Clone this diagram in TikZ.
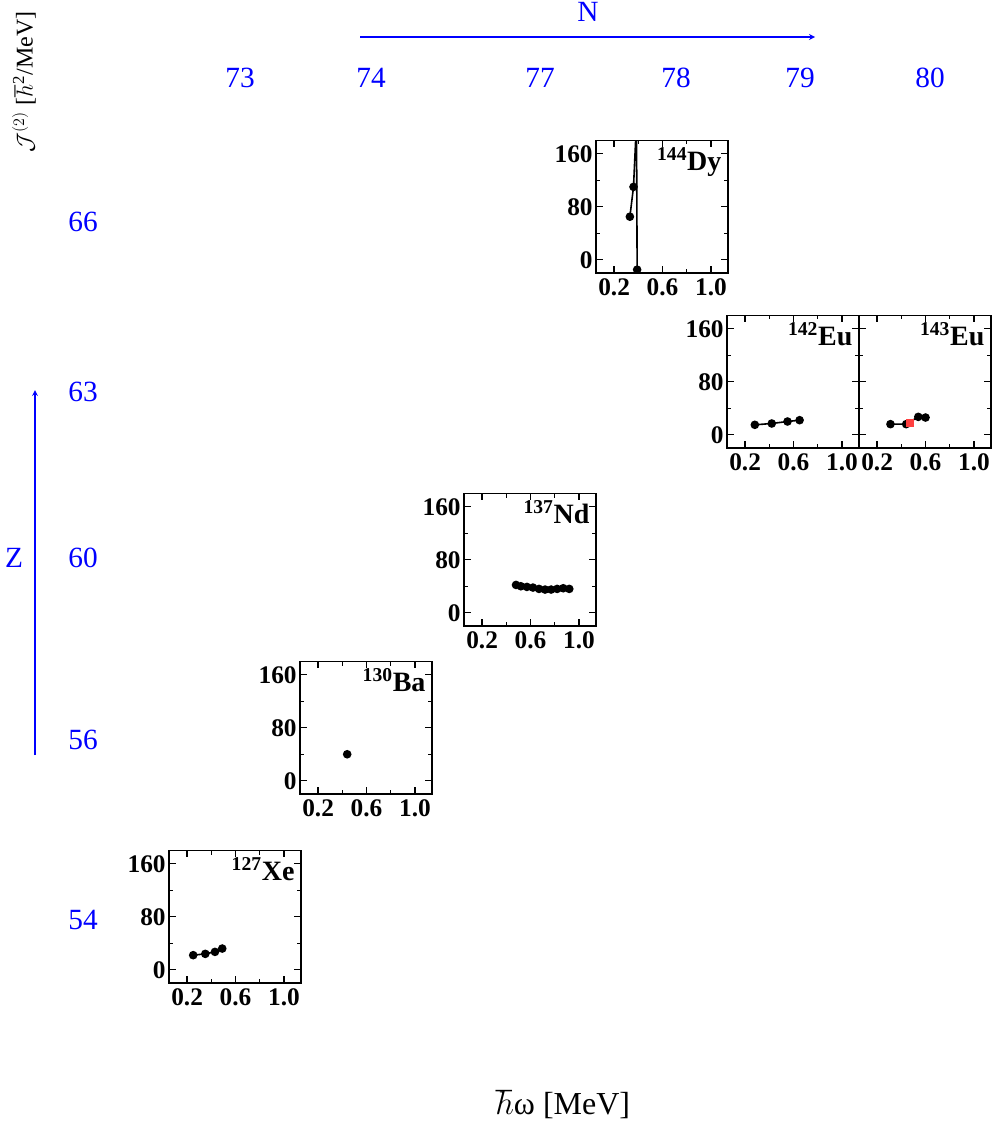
\documentclass[tikz,border=0pt]{standalone}
\usepackage{fontspec}
\setmainfont{Liberation Serif}
\begin{document}
\begin{tikzpicture}[x=0.75pt,y=-0.75pt,
  blu/.style={text=blue,font=\fontsize{22}{22}\selectfont},
  tl/.style={font=\bfseries\fontsize{19}{19}\selectfont,inner sep=1pt},
  nuc/.style={font=\bfseries\fontsize{21}{21}\selectfont,anchor=north east,inner sep=1pt},
  dot/.style={circle,fill=black,inner sep=0pt,minimum size=6.5pt},
  frame/.style={line width=1.3pt}]
\useasboundingbox (0,0) rectangle (993,1125);
\newcommand{\mypanel}[5][1]{%
 \begin{scope}[shift={(#2,#3)},x=90.75pt,y=0.4969pt,shift={(-0.05,20)}]
  \begin{scope}
   \clip (0.05,-20) rectangle (1.14,180);
   #5
  \end{scope}
  \draw[frame] (0.05,-20) rectangle (1.14,180);
  \foreach \t in {0.2,0.6,1.0}{\draw[line width=1pt] (\t,-20) -- ++(0,5pt) (\t,180) -- ++(0,-5pt);}
  \foreach \t in {0.4,0.8}{\draw[line width=1pt] (\t,-20) -- ++(0,3pt) (\t,180) -- ++(0,-3pt);}
  \foreach \t in {0,80,160}{\draw[line width=1pt] (0.05,\t) -- ++(5pt,0) (1.14,\t) -- ++(-5pt,0);}
  \foreach \t in {40,120}{\draw[line width=1pt] (0.05,\t) -- ++(3pt,0) (1.14,\t) -- ++(-3pt,0);}
  \ifnum#1=1 \foreach \t in {0,80,160}{\node[tl,anchor=east] at (0.035,\t) {\t};}\fi
  \foreach \t in {0.2,0.6,1.0}{\node[tl,anchor=north] at (\t,-26) {\t};}
  \node[nuc] at (1.1,172) {#4};
 \end{scope}}
\mypanel{596}{273}{\textsuperscript{144}Dy}{\draw[line width=1.2pt] (0.33,65)--(0.36,110)--(0.38,190)--(0.385,190)--(0.39,-15);
 \node[dot] (a1) at (0.33,65){};\node[dot] (a2) at (0.36,110){};\node[dot] (a3) at (0.39,-15){};}
\mypanel{727}{448}{\textsuperscript{142}Eu}{\draw[line width=1.2pt] (0.28,15)--(0.42,17)--(0.55,20)--(0.65,22);
 \foreach \p/\q in {0.28/15,0.42/17,0.55/20,0.65/22}{\node[dot] at (\p,\q){};}}
\mypanel[0]{859}{448}{\textsuperscript{143}Eu}{\draw[line width=1.2pt] (0.31,16)--(0.44,16)--(0.54,27)--(0.60,26);
 \foreach \p/\q in {0.31/16,0.44/16,0.54/27,0.60/26}{\node[dot] at (\p,\q){};}
 \node[fill=red!75,inner sep=0pt,minimum size=6pt] at (0.47,18){};}
\mypanel{464}{626}{\textsuperscript{137}Nd}{\draw[line width=1pt] (0.48,42)--(0.52,40)--(0.57,39)--(0.62,38)--(0.67,36)--(0.72,35)--(0.77,35)--(0.82,36)--(0.87,37)--(0.92,36);
 \foreach \p/\q in {0.48/42,0.52/40,0.57/39,0.62/38,0.67/36,0.72/35,0.77/35,0.82/36,0.87/37,0.92/36}{\node[dot] at (\p,\q){};}}
\mypanel{300}{794}{\textsuperscript{130}Ba}{\node[dot] at (0.44,40){};}
\mypanel{169}{983}{\textsuperscript{127}Xe}{\draw[line width=1.2pt] (0.25,22)--(0.35,24)--(0.43,27)--(0.49,32);
 \foreach \p/\q in {0.25/22,0.35/24,0.43/27,0.49/32}{\node[dot] at (\p,\q){};}}
% N axis
\coordinate (na) at (360,37); \coordinate (nb) at (815,37);
\draw[blue,line width=1pt,-stealth] (na) -- (nb);
\node[blu] (N) at (588,12) {N};
\foreach \v/\xx in {73/240,74/371,77/540,78/676,79/800,80/930}{\node[blu] (n\v) at (\xx,78){\v};}
% Z axis
\coordinate (za) at (35,755); \coordinate (zb) at (35,390);
\draw[blue,line width=1pt,-stealth] (za) -- (zb);
\node[blu] (Z) at (14,558) {Z};
\foreach \v/\yy in {66/222,63/392,60/558,56/740,54/920}{\node[blu] (z\v) at (83,\yy){\v};}
% axis titles
\node[rotate=90,font=\fontsize{18}{18}\selectfont,inner sep=1pt] (yl) at (24,82) {$\mathcal{J}^{(2)}$ [$\hbar$\textsuperscript{2}/MeV]};
\node[font=\fontsize{24}{24}\selectfont] (xl) at (563,1105) {$\hbar$ω [MeV]};
\end{tikzpicture}
\end{document}
